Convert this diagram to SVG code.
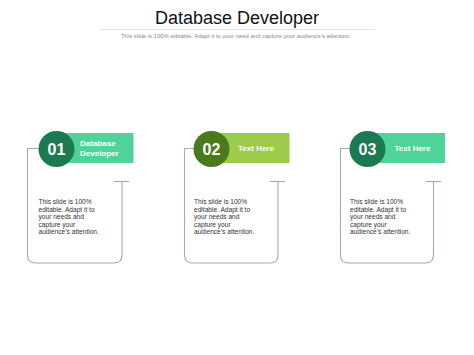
<svg xmlns="http://www.w3.org/2000/svg" width="474" height="355" viewBox="0 0 474 355">
<style>
.bg{fill:#ffffff}
.title{font-family:"Liberation Sans",Arial,sans-serif;font-size:18px;fill:#111111}
.sub{font-family:"Liberation Sans",Arial,sans-serif;font-size:5.6px;fill:#8a8a8a}
.sep{stroke:#dddddd;stroke-width:0.8}
.frame{fill:none;stroke:#a3abab;stroke-width:1.1}
.num{font-family:"Liberation Sans",Arial,sans-serif;font-size:16px;font-weight:bold;fill:#ffffff;text-anchor:middle}
.lbl{font-family:"Liberation Sans",Arial,sans-serif;font-size:8px;font-weight:bold;fill:#ffffff}
.body{font-family:"Liberation Sans",Arial,sans-serif;font-size:6.6px;fill:#333333}
.mintR{fill:#4fd39a}
.mintC{fill:#1b7a52}
.limeR{fill:#9ccc4a}
.limeC{fill:#4a7a1e}
</style>
<rect class="bg" x="0" y="0" width="474" height="355"/>
<text class="title" x="237" y="24" text-anchor="middle">Database Developer</text>
<line class="sep" x1="100" y1="29.5" x2="375" y2="29.5"/>
<text class="sub" x="236" y="38" text-anchor="middle" textLength="230" lengthAdjust="spacingAndGlyphs">This slide is 100% editable. Adapt it to your need and capture your audience’s attention.</text>
<g id="connectors">
<path class="frame" d="M39 148.5 H27.5 V255 Q27.5 263 35.5 263 H114 Q122 263 122 255 V181.5"/>
<line class="frame" x1="114" y1="181.5" x2="129" y2="181.5"/>
<path class="frame" d="M194 148.5 H184.5 V255 Q184.5 263 192.5 263 H270 Q278 263 278 255 V181.5"/>
<line class="frame" x1="270" y1="181.5" x2="285" y2="181.5"/>
<path class="frame" d="M350 148.5 H340.5 V255 Q340.5 263 348.5 263 H425.5 Q433.5 263 433.5 255 V181.5"/>
<line class="frame" x1="426" y1="181.5" x2="441" y2="181.5"/>
</g>
<g id="node1">
<rect class="mintR" x="56" y="133" width="77.5" height="30"/>
<circle class="mintC" cx="56.5" cy="149" r="18"/>
<text class="num" x="56.5" y="155">01</text>
<text class="lbl" x="80" y="146">Database</text>
<text class="lbl" x="80" y="156">Developer</text>
<text class="body" x="38.5" y="204">This slide is 100%</text>
<text class="body" x="38.5" y="211.5">editable.  Adapt it to</text>
<text class="body" x="38.5" y="219">your needs and</text>
<text class="body" x="38.5" y="226.5">capture your</text>
<text class="body" x="38.5" y="234">audience’s attention.</text>
</g>
<g id="node2">
<rect class="limeR" x="211" y="133" width="78.5" height="30"/>
<circle class="limeC" cx="211.5" cy="149" r="18"/>
<text class="num" x="211.5" y="155">02</text>
<text class="lbl" x="256" y="151" text-anchor="middle">Text Here</text>
<text class="body" x="194" y="204">This slide is 100%</text>
<text class="body" x="194" y="211.5">editable.  Adapt it to</text>
<text class="body" x="194" y="219">your needs and</text>
<text class="body" x="194" y="226.5">capture your</text>
<text class="body" x="194" y="234">audience’s attention.</text>
</g>
<g id="node3">
<rect class="mintR" x="367" y="133" width="78" height="30"/>
<circle class="mintC" cx="367.5" cy="149" r="18"/>
<text class="num" x="367.5" y="155">03</text>
<text class="lbl" x="412.5" y="151" text-anchor="middle">Text Here</text>
<text class="body" x="350" y="204">This slide is 100%</text>
<text class="body" x="350" y="211.5">editable.  Adapt it to</text>
<text class="body" x="350" y="219">your needs and</text>
<text class="body" x="350" y="226.5">capture your</text>
<text class="body" x="350" y="234">audience’s attention.</text>
</g>
</svg>
